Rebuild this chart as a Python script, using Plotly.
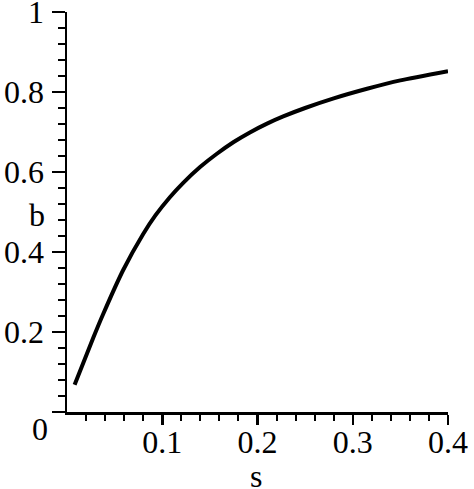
import numpy as np
import plotly.graph_objects as go

# Data
s_vals = [0.008, 0.028, 0.038, 0.059, 0.080, 0.093, 0.108, 0.122, 0.140, 0.157,
          0.175, 0.192, 0.210, 0.227, 0.250, 0.280, 0.315, 0.350, 0.400]
b_vals = [0.068, 0.188, 0.245, 0.355, 0.445, 0.492, 0.537, 0.573, 0.613, 0.645,
          0.675, 0.699, 0.721, 0.739, 0.760, 0.784, 0.808, 0.829, 0.852]

x_ticks = [0.1, 0.2, 0.3, 0.4]
x_tick_labels = ["0.1", "0.2", "0.3", "0.4"]
y_ticks = [0, 0.2, 0.4, 0.6, 0.8, 1]
y_tick_labels = ["", "0.2", "0.4", "0.6", "0.8", "1"]

FONT = "Liberation Serif"
FS = 32

W, H = 474, 489
L, T = 67, 12
R = W - 448
B = H - 412
PW, PH = W - L - R, H - T - B


def px(xp, yp):
    """convert a window pixel position to paper coordinates"""
    return (xp - L) / PW, (H - B - yp) / PH


fig = go.Figure()
fig.add_trace(go.Scatter(x=s_vals, y=b_vals, mode="lines",
                         line=dict(color="black", width=4, shape="spline", smoothing=0.6),
                         showlegend=False, hoverinfo="skip"))

x_minor = [float(v) for v in np.round(np.arange(0.02, 0.401, 0.02), 4)
           if not any(abs(v - t) < 1e-9 for t in x_ticks)]
y_minor = [float(v) for v in np.round(np.arange(0.04, 0.97, 0.04), 4)
           if not any(abs(v - t) < 1e-9 for t in y_ticks)]

bx, by = px(37, 215)
sx, sy = px(256, 476)
zx, zy = px(40, 429)

fig.update_layout(
    template="none",
    width=W, height=H,
    margin=dict(l=L, r=R, t=T, b=B, autoexpand=False),
    paper_bgcolor="white", plot_bgcolor="white",
    font=dict(family=FONT, size=FS, color="black"),
    xaxis=dict(range=[0, 0.4], showgrid=False, zeroline=False, automargin=False,
               showline=True, linecolor="black", linewidth=2.5,
               tickmode="array", tickvals=x_ticks, ticktext=x_tick_labels,
               ticks="outside", ticklen=10, tickwidth=2.5, tickcolor="black",
               ticklabelstandoff=-10, ticklabeloverflow="allow",
               minor=dict(tickmode="array", tickvals=x_minor, ticks="outside",
                          ticklen=6, tickwidth=2, tickcolor="black", showgrid=False),
               tickfont=dict(family=FONT, size=FS, color="black")),
    yaxis=dict(range=[0, 1], showgrid=False, zeroline=False, automargin=False,
               showline=True, linecolor="black", linewidth=2.5,
               tickmode="array", tickvals=y_ticks, ticktext=y_tick_labels,
               ticks="outside", ticklen=13, tickwidth=2.5, tickcolor="black",
               ticklabelstandoff=1, ticklabeloverflow="allow",
               minor=dict(tickmode="array", tickvals=y_minor, ticks="outside",
                          ticklen=7, tickwidth=2, tickcolor="black", showgrid=False),
               tickfont=dict(family=FONT, size=FS, color="black")),
    annotations=[
        dict(text="b", x=bx, y=by, xref="paper", yref="paper", showarrow=False,
             font=dict(family=FONT, size=FS, color="black"), xanchor="center", yanchor="middle"),
        dict(text="s", x=sx, y=sy, xref="paper", yref="paper", showarrow=False,
             font=dict(family=FONT, size=FS, color="black"), xanchor="center", yanchor="middle"),
        dict(text="0", x=zx, y=zy, xref="paper", yref="paper", showarrow=False,
             font=dict(family=FONT, size=FS, color="black"), xanchor="center", yanchor="middle"),
    ],
)

# remove the default 8px body margin so the figure fills the window exactly
fig.write_html("out.html",
               config={"displayModeBar": False, "staticPlot": True},
               post_script="document.body.style.margin='0';document.body.style.overflow='hidden';")
